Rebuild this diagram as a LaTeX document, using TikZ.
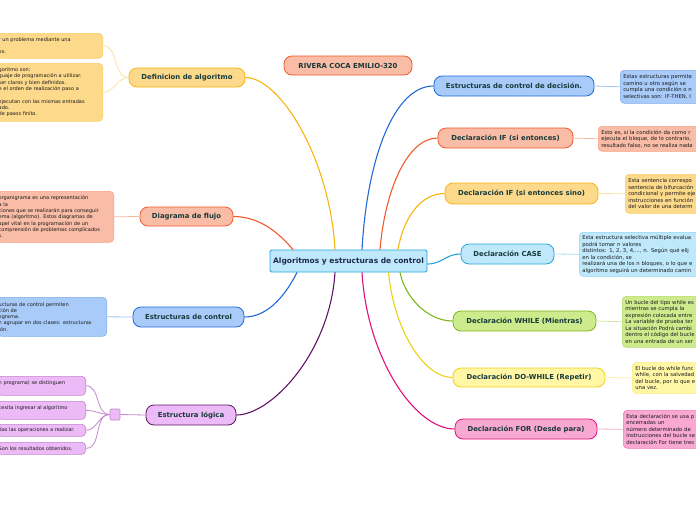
\documentclass[tikz,border=0pt]{standalone}
\usepackage{fontspec}
\setmainfont{DejaVu Sans}
\usetikzlibrary{positioning}

% palette: F = fill, D = dark line, L = light line
\definecolor{ink}{HTML}{173A3A}
\definecolor{navy}{HTML}{1D2B4F}
\definecolor{yelF}{HTML}{FDD98B}
\definecolor{yelD}{HTML}{F9B40F}
\definecolor{yelL}{HTML}{FCE0A0}
\definecolor{salF}{HTML}{F9BCA6}
\definecolor{salD}{HTML}{EF5B2B}
\definecolor{salL}{HTML}{F8B9A1}
\definecolor{bluF}{HTML}{A8CBFA}
\definecolor{bluD}{HTML}{1F6AD6}
\definecolor{bluL}{HTML}{9CC3F3}
\definecolor{cyaF}{HTML}{BFE8FB}
\definecolor{cyaD}{HTML}{24A3DC}
\definecolor{cyaL}{HTML}{A9DCF5}
\definecolor{grnF}{HTML}{CDEB8C}
\definecolor{grnD}{HTML}{7DB51A}
\definecolor{grnL}{HTML}{CFE7A6}
\definecolor{ltyF}{HTML}{FFF6A6}
\definecolor{ltyD}{HTML}{EBD316}
\definecolor{ltyL}{HTML}{FBF0B4}
\definecolor{pnkF}{HTML}{F9A8D2}
\definecolor{pnkD}{HTML}{E4107A}
\definecolor{pnkL}{HTML}{F6A9CD}
\definecolor{purF}{HTML}{ECBAF7}
\definecolor{purD}{HTML}{5E1464}
\definecolor{purL}{HTML}{C08ACB}

\tikzset{
  topic/.style={draw=#1D, fill=#1F, line width=0.8pt, rounded corners=8pt,
    text=ink, font=\fontsize{6.9}{8}\selectfont\bfseries,
    minimum height=19pt, inner sep=0pt},
  note/.style={draw=#1D!30!#1F, fill=#1F, line width=0.6pt, rounded corners=4pt,
    text=black!90, font=\fontsize{5}{6.3}\selectfont, align=left,
    inner xsep=1.5pt, inner ysep=1pt},
  rnote/.style={note=#1, anchor=north west, text width=140pt, inner xsep=3pt,
    font=\fontsize{5.3}{6.5}\selectfont},
  branch/.style={line width=1.1pt, draw=#1D},
  twig/.style={line width=0.8pt, draw=#1L},
}

\begin{document}
\begin{tikzpicture}[x=1pt, y=-1pt]

  \useasboundingbox (0,0) rectangle (696,520);
  \begin{scope}
  \clip (0,0) rectangle (696,520);

  % centre and title
  \node [topic=cya, rounded corners=1.5pt, minimum width=157pt, minimum height=22pt,
    text=navy, font=\fontsize{7.5}{8}\selectfont\bfseries] (center) at (348.5,261)
    {Algoritmos y estructuras de control};
  \node [topic=sal, minimum width=128pt] (title) at (348,65.5) {RIVERA COCA EMILIO-320};

  % left topics
  \node [topic=yel, minimum width=116pt] (def) at (187,77.5) {Definicion de algoritmo};
  \node [topic=sal, minimum width=93pt] (flujo) at (186.5,216.5) {Diagrama de flujo};
  \node [topic=blu, minimum width=111pt, minimum height=20pt] (estr) at (188.5,317) {Estructuras de control};
  \node [topic=pur, minimum width=90pt, minimum height=20pt] (logica) at (191,415) {Estructura lógica};

  % right topics
  \node [topic=blu, minimum width=160pt, minimum height=20pt] (dec) at (514,86) {Estructuras de control de decisión.};
  \node [topic=sal, minimum width=135pt, minimum height=20pt] (if) at (505.5,138) {Declaración IF (si entonces)};
  \node [topic=yel, minimum width=153pt, minimum height=21pt] (sino) at (521.5,193.5) {Declaración IF (si entonces sino)};
  \node [topic=cya, minimum width=93pt, minimum height=20pt] (case) at (507.5,254) {Declaración CASE};
  \node [topic=grn, minimum width=143pt, minimum height=20pt] (while) at (524.5,321) {Declaración WHILE (Mientras)};
  \node [topic=lty, minimum width=152pt] (dowhile) at (529,377.5) {Declaración DO-WHILE (Repetir)};
  \node [topic=pnk, minimum width=142pt, minimum height=20pt] (for) at (526,429) {Declaración FOR (Desde para)};

  % left notes
  \node [note=yel, anchor=north east, text width=102.5pt, minimum height=25pt] (def-a) at (103,33)
    {r un problema mediante una\\\mbox{}\\os.};
  \node [note=yel, anchor=north east, text width=102.5pt, minimum height=58pt] (def-b) at (103,63)
    {goritmo son:\\guaje de programación a utilizar.\\ ser claros y bien definidos.\\e el orden de realización paso a\\\mbox{}\\ejecutan con las mismas entradas\\ado.\\de pasos finito.};
  \node [note=sal, anchor=north east, text width=113.5pt, minimum height=51pt] (flujo-note) at (114,191)
    {organigrama es una representación\\a la\\ciones que se realizarán para conseguir\\ema (algoritmo). Estos diagramas de\\apel vital en la programación de un\\ comprensión de problemas complicados\\s.};
  \node [note=blu, anchor=north east, text width=106.5pt, minimum height=39pt] (estr-note) at (107,297)
    {ucturas de control permiten\\ción de\\ograma.\\n agrupar en dos clases: estructuras\\ión.};

  \node [note=pur, anchor=north east, text width=85.5pt, minimum height=19pt] (log-1) at (86,376)
    {n programa) se distinguen\\\mbox{}};
  \node [note=pur, anchor=north east, text width=85.5pt, minimum height=18pt] (log-2) at (86,401)
    {cesita ingresar al algoritmo\\\mbox{}};
  \node [note=pur, anchor=north east, text width=85.5pt, minimum height=12pt] (log-3) at (86,424)
    {das las operaciones a realizar.};
  \node [note=pur, anchor=north east, text width=85.5pt, minimum height=12pt] (log-4) at (86,442)
    {Son los resultados obtenidos.};
  \node [draw=purL, fill=purF, rounded corners=1pt, minimum width=10pt, minimum height=11pt,
    inner sep=0pt, line width=0.6pt] (hub) at (115,414.5) {};

  % right notes
  \node [rnote=blu, minimum height=33pt] (dec-note) at (620,70)
    {Estas estructuras permite\\camino u otro según se\\ cumpla una condición o n\\selectivas son: IF-THEN, I};
  \node [rnote=sal, minimum height=25pt] (if-note) at (598,126)
    {Esto es, si la condición da como r\\ejecuta el bloque, de lo contrario,\\resultado falso, no se realiza nada};
  \node [rnote=yel, minimum height=39pt] (sino-note) at (625,174)
    {Esta sentencia correspo\\sentencia de bifurcación\\condicional y permite eje\\instrucciones en función\\del valor de una determ};
  \node [rnote=cya, minimum height=44pt] (case-note) at (579,232)
    {Esta estructura selectiva múltiple evalua\\podrá tomar n valores\\distintos: 1, 2, 3, 4,..., n. Según qué elij\\en la condición, se\\realizará una de los n bloques, o lo que e\\algoritmo seguirá un determinado camin};
  \node [rnote=grn, minimum height=51pt] (while-note) at (622,296)
    {Un bucle del tipo while es\\mientras se cumpla la\\ expresión colocada entre\\La variable de prueba ter\\La situación Podrá cambi\\dentro el código del bucle\\en una entrada de un ser};
  \node [rnote=lty, minimum height=31pt] (dowhile-note) at (632,362)
    {El bucle do while func\\while, con la salvedad\\del bucle, por lo que e\\una vez.};
  \node [rnote=pnk, minimum height=38pt] (for-note) at (623,410)
    {Esta declaración se usa p\\encerradas un\\ número determinado de\\instrucciones del bucle se\\declaración For tiene tres};

  % main branches
  \draw [branch=yel] ([xshift=-13.5pt]center.north) .. controls +(-5,-90) and +(35,0) .. (def.east);
  \draw [branch=sal] ([xshift=-55.5pt]center.north) .. controls +(-15,-18) and +(25,0) .. (flujo.east);
  \draw [branch=blu] ([xshift=-51.5pt]center.south) .. controls +(-10,20) and +(25,0) .. (estr.east);
  \draw [branch=pur] ([xshift=-13.5pt]center.south) .. controls +(-5,80) and +(35,0) .. (logica.east);
  \draw [branch=blu] ([xshift=13.5pt]center.north) .. controls +(5,-90) and +(-40,0) .. (dec.west);
  \draw [branch=sal] ([xshift=31.5pt]center.north) .. controls +(5,-60) and +(-30,0) .. (if.west);
  \draw [branch=yel] ([xshift=49.5pt]center.north) .. controls +(5,-30) and +(-25,0) .. (sino.west);
  \draw [branch=cya] ([yshift=-3pt]center.east) .. controls +(15,0) and +(-15,0) .. (case.west);
  \draw [branch=grn] ([xshift=51.5pt]center.south) .. controls +(5,25) and +(-25,0) .. (while.west);
  \draw [branch=lty] ([xshift=40pt]center.south) .. controls +(5,55) and +(-30,0) .. (dowhile.west);
  \draw [branch=pnk] ([xshift=13.5pt]center.south) .. controls +(5,85) and +(-40,0) .. (for.west);

  % twigs to notes
  \draw [twig=yel] (def.west) to[out=180, in=0] (def-a.east);
  \draw [twig=yel] (def.west) to[out=180, in=0] (def-b.east);
  \draw [twig=sal] (flujo.west) -- (flujo-note.east);
  \draw [twig=blu] (estr.west) -- (estr-note.east);
  \draw [twig=pur] (logica.west) -- (hub.east);
  \foreach \i in {1,...,4}
    \draw [twig=pur] (hub.west) to[out=180, in=0] (log-\i.east);

  \draw [twig=blu] (dec.east) -- (dec-note.west);
  \draw [twig=sal] (if.east) -- (if-note.west);
  \draw [twig=yel] (sino.east) -- (sino-note.west);
  \draw [twig=cya] (case.east) -- (case-note.west);
  \draw [twig=grn] (while.east) -- (while-note.west);
  \draw [twig=lty] (dowhile.east) -- (dowhile-note.west);
  \draw [twig=pnk] (for.east) -- (for-note.west);

  \end{scope}
\end{tikzpicture}
\end{document}
